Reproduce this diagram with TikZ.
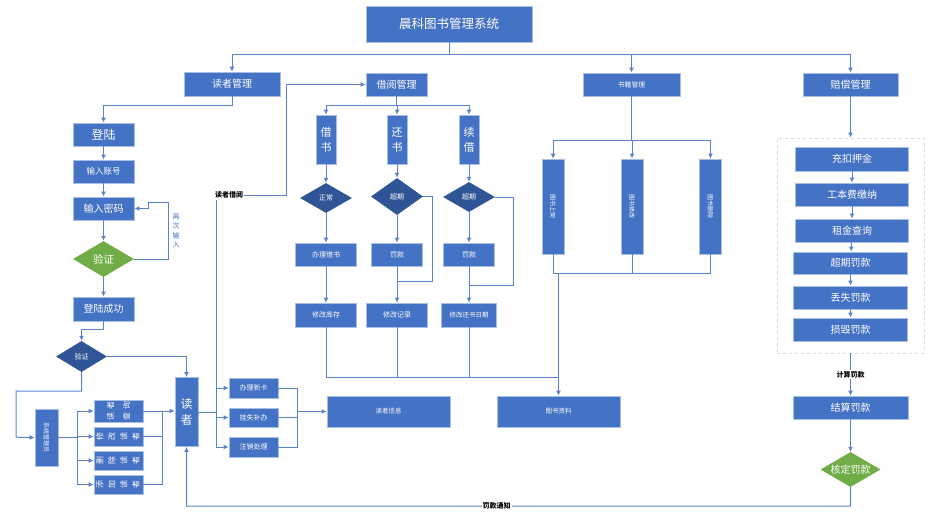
\documentclass[tikz,border=0pt]{standalone}
\usepackage{fontspec}
\setmainfont{Noto Sans CJK SC}
\usepackage{tikz}
\usetikzlibrary{arrows.meta,positioning,calc,shapes.geometric}
\newcommand{\fsz}[1]{\fontsize{#1}{#1}\selectfont}
\definecolor{boxblue}{HTML}{4472C4}
\definecolor{edgeblue}{HTML}{A7BEE6}
\definecolor{decblue}{HTML}{2F5597}
\definecolor{okgreen}{HTML}{70AD47}
\definecolor{lineblue}{HTML}{5A82CC}
\tikzset{
  wh/.style 2 args={minimum width=#1pt,minimum height=#2pt},
  flowbox/.style={
    draw=edgeblue,fill=boxblue,line width=0.8pt,text=white,
    inner sep=0pt,align=center
  },
  decbox/.style={diamond,shape aspect=1.7,fill=decblue,text=white,inner sep=0pt,align=center},
  okdec/.style={decbox,fill=okgreen},
  groupbox/.style={draw=black!15,dashed,line width=0.8pt,inner sep=0pt},
  tagnode/.style={fill=white,inner sep=1pt,font=\fsz{7}\bfseries},
  flowline/.style={draw=lineblue,line width=1pt},
  flowarrow/.style={flowline,-{Latex[length=5pt,width=5pt]}}
}
\begin{document}
\begin{tikzpicture}[x=1pt,y=-1pt]
  \useasboundingbox (0,0) rectangle (939,528);
  \node[flowbox,wh={166}{36},font=\fsz{12.5}] (sys) at (449,24) {晨科图书管理系统};
  \node[flowbox,wh={96}{24},font=\fsz{10}] (rdmgr) at (232,84) {读者管理};
  \node[flowbox,wh={61}{23},font=\fsz{10}] (brmgr) at (396.5,84.5) {借阅管理};
  \node[flowbox,wh={97}{23},font=\fsz{6.8}] (bkmgr) at (631.5,84.5) {书籍管理};
  \node[flowbox,wh={95}{23},font=\fsz{10}] (cpmgr) at (850.5,84.5) {赔偿管理};
  \foreach \n in {rdmgr,bkmgr,cpmgr}
    \draw[flowarrow] (sys.south) -- ++(0,12) -| (\n.north);
  % login
  \node[flowbox,wh={61}{23},font=\fsz{12}] (login) at (103.5,134.5) {登陆};
  \node[flowbox,wh={61}{23},font=\fsz{8.5}] (acct) at (103.5,171.5) {输入账号};
  \node[flowbox,wh={61}{23},font=\fsz{10}] (pwd) at (103.5,208.5) {输入密码};
  \node[okdec,wh={61}{36},font=\fsz{10.5}] (vfy) at (103.5,259) {验证};
  \node[flowbox,wh={61}{24},font=\fsz{10}] (okay) at (103.5,309) {登陆成功};
  \node[font=\fontsize{7}{9.3}\selectfont,text=boxblue,align=center,inner sep=0pt] (again) at (176,231) {再\\次\\输\\入};
  \draw[flowarrow] (rdmgr.south) -- ++(0,9) -| (login.north);
  \draw[flowarrow] (login) -- (acct);
  \draw[flowarrow] (acct) -- (pwd);
  \draw[flowarrow] (pwd) -- (vfy);
  \draw[flowarrow] (vfy) -- (okay);
  \draw[flowarrow] (vfy.east) -- ++(34,0) -- ++(0,-57) -- ++(-20,0) -- ++(0,6.5) -- (pwd.east);
  % admin and reader
  \node[decbox,wh={51}{31},font=\fsz{7}] (adm) at (81.5,356.5) {验证};
  \node[flowbox,wh={23}{69},font=\fontsize{12}{16}\selectfont] (reader) at (186.5,412) {读\\者};
  \node[flowbox,wh={23}{57},font=\fsz{6}] (sysadm) at (46.5,437.5) {\rotatebox{-90}{系统管理员}};
  \draw[flowarrow] (okay.south) -- ++(0,8) -| (adm.north);
  \draw[flowarrow] (adm.east) -| (reader.north);
  \draw[flowarrow] (adm.south) -- ++(0,19) -| ++(-65.5,46) -- (sysadm.west);
  \node[flowbox,wh={49}{22},font=\fontsize{8}{16}\selectfont] (rq) at (118.5,411)
    {\rotatebox{90}{\begin{tabular}{@{}c@{}}读\hspace{3pt}者\\查\hspace{3pt}询\end{tabular}}};
  \node[flowbox,wh={49}{19},font=\fontsize{8}{12}\selectfont] (rm) at (118.5,436.5)
    {\rotatebox{90}{\begin{tabular}{@{}c@{}}修\\改\\读\\者\end{tabular}}};
  \node[flowbox,wh={49}{19},font=\fontsize{8}{12}\selectfont] (rd) at (118.5,460.5)
    {\rotatebox{90}{\begin{tabular}{@{}c@{}}删\\除\\读\\者\end{tabular}}};
  \node[flowbox,wh={49}{19},font=\fontsize{8}{12}\selectfont] (ra) at (118.5,484.5)
    {\rotatebox{90}{\begin{tabular}{@{}c@{}}添\\加\\读\\者\end{tabular}}};
  \foreach \n in {rq,rm,rd,ra}
    \draw[flowarrow] (sysadm.east) -- ++(19,0) |- (\n.west);
  \coordinate (qj) at (162,411);
  \draw[flowline] (rq.east) -- (qj);
  \foreach \n in {rm,ra}
    \draw[flowline] (\n.east) -| (qj);
  \draw[flowarrow] (qj) -- (reader.west |- qj);
  % reader cards
  \coordinate (rj) at (216,412);
  \node[tagnode] (rdtag) at (229,195) {读者借阅};
  \draw[flowline] (reader.east) -- (rj);
  \draw[flowline] (rj) -- (rj |- rdtag.south);
  \draw[flowarrow] (rdtag.east) -- ++(42,0) |- (brmgr.west);
  \node[flowbox,wh={49}{20},font=\fsz{7}] (card1) at (253.5,388) {办理新卡};
  \node[flowbox,wh={49}{19},font=\fsz{7}] (card2) at (253.5,417.5) {挂失补办};
  \node[flowbox,wh={49}{20},font=\fsz{7}] (card3) at (253.5,447) {注销处理};
  \coordinate (cj) at (297,411.5);
  \foreach \n in {card1,card2,card3}{
    \draw[flowarrow] (rj) |- (\n.west);
    \draw[flowline] (\n.east) -| (cj);
  }
  \node[flowbox,wh={123}{31},font=\fsz{6.5}] (rinfo) at (388.5,411.5) {读者信息};
  \node[flowbox,wh={123}{31},font=\fsz{6.5}] (binfo) at (558.5,411.5) {图书资料};
  \draw[flowarrow] (cj) -- (rinfo.west);
  % borrowing
  \node[flowbox,wh={20}{49},font=\fontsize{11}{15}\selectfont] (lend) at (326,139.5) {借\\书};
  \node[flowbox,wh={20}{49},font=\fontsize{11}{15}\selectfont] (back) at (397,139.5) {还\\书};
  \node[flowbox,wh={20}{49},font=\fontsize{11}{15}\selectfont] (renew) at (469,139.5) {续\\借};
  \foreach \n in {lend,back,renew}
    \draw[flowarrow] (brmgr.south) -- ++(0,9) -| (\n.north);
  \node[decbox,wh={52}{30},font=\fsz{7}] (dnorm) at (326,198) {正常};
  \node[decbox,shape aspect=1.4,wh={52}{37},font=\fsz{7}] (dlate) at (397,196.5) {超期};
  \node[decbox,wh={52}{30},font=\fsz{7}] (dover) at (469,197) {超期};
  \node[flowbox,wh={61}{23},font=\fsz{7}] (doit) at (326,254.5) {办理借书};
  \node[flowbox,wh={51}{23},font=\fsz{7}] (fineb) at (397,254.5) {罚款};
  \node[flowbox,wh={51}{23},font=\fsz{7}] (finer) at (469,254.5) {罚款};
  \node[flowbox,wh={61}{24},font=\fsz{7}] (stock) at (326,315) {修改库存};
  \node[flowbox,wh={61}{24},font=\fsz{7}] (record) at (397,315) {修改记录};
  \node[flowbox,wh={55}{24},font=\fsz{6.5}] (due) at (469,315) {修改还书日期};
  \draw[flowarrow] (lend) -- (dnorm);
  \draw[flowarrow] (dnorm) -- (doit);
  \draw[flowarrow] (doit) -- (stock);
  \draw[flowarrow] (back) -- (dlate);
  \draw[flowarrow] (dlate) -- (fineb);
  \draw[flowarrow] (fineb) -- (record);
  \draw[flowarrow] (renew) -- (dover);
  \draw[flowarrow] (dover) -- (finer);
  \draw[flowarrow] (finer) -- (due);
  \draw[flowline] (dlate.east) -| ++(9,84.5) -- ++(-35,0);
  \draw[flowline] (dover.east) -| ++(18,88) -- ++(-44,0);
  \coordinate (bj) at (558.5,377);
  \foreach \n in {stock,record,due}
    \draw[flowline] (\n.south) |- (bj);
  % books
  \foreach \n/\x/\t in {bk1/553/图书上架,bk2/632/图书修改,bk3/710.5/图书删除}{
    \node[flowbox,wh={22}{95},font=\fsz{6}] (\n) at (\x,206.5) {\rotatebox{-90}{\t}};
    \draw[flowarrow] (bkmgr.south) -- ++(0,44) -| (\n.north);
  }
  \draw[flowline] (bk1.south) -- ++(0,19) -| (bk3.south);
  \draw[flowline] (bk2.south) -- ++(0,19);
  \coordinate (kj) at (558.5,273);
  \draw[flowarrow] (kj) -- (binfo.north);
  % compensation
  \node[groupbox,wh={147}{215}] (grp) at (850.5,245.5) {};
  \draw[flowarrow] (cpmgr.south) -- (grp.north);
  \node[flowbox,wh={113}{24},font=\fsz{10}] (dep) at (852,159) {充扣押金};
  \node[flowbox,wh={113}{23},font=\fsz{10}] (fee) at (852,194.5) {工本费缴纳};
  \node[flowbox,wh={113}{23},font=\fsz{10}] (rent) at (852,230.5) {租金查询};
  \node[flowbox,wh={114}{22},font=\fsz{10}] (late) at (850.5,263) {超期罚款};
  \node[flowbox,wh={114}{23},font=\fsz{10}] (lost) at (850.5,297.5) {丢失罚款};
  \node[flowbox,wh={114}{23},font=\fsz{10}] (broken) at (850.5,329.5) {损毁罚款};
  \draw[flowarrow] (dep) -- (fee);
  \draw[flowarrow] (fee) -- (rent);
  \draw[flowarrow] (rent) -- (late);
  \draw[flowarrow] (late) -- (lost);
  \draw[flowarrow] (lost) -- (broken);
  \node[flowbox,wh={115}{23},font=\fsz{10}] (settle) at (850.5,407.5) {结算罚款};
  \draw[flowarrow] (grp.south) -- node[tagnode] (calctag) {计算罚款} (settle.north);
  \node[okdec,wh={60}{35},font=\fsz{10}] (check) at (850.5,469.5) {核定罚款};
  \draw[flowarrow] (settle) -- (check);
  \coordinate (fb) at (186.5,506);
  \draw[flowarrow] (check.south) -- ++(0,19) -- node[tagnode,pos=0.533] (finetag) {罚款通知} (fb) -- (reader.south);
\end{tikzpicture}
\end{document}
